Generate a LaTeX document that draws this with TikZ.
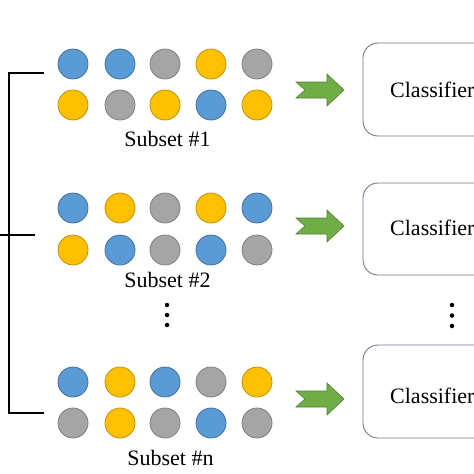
\documentclass[tikz,border=0pt]{standalone}
\usepackage{fontspec}
\setmainfont{Liberation Serif}
\definecolor{cblue}{HTML}{5B9BD5}
\definecolor{cblueb}{HTML}{41719C}
\definecolor{cgold}{HTML}{FFC000}
\definecolor{cgoldb}{HTML}{BF9000}
\definecolor{cgray}{HTML}{A5A5A5}
\definecolor{cgrayb}{HTML}{7F7F7F}
\definecolor{cgreen}{HTML}{70AD47}
\definecolor{cgreenb}{HTML}{507E32}
\definecolor{boxline}{HTML}{6F7B8C}
\newcommand\ballxpos[1]{\ifcase#1\or73\or120\or165\or211\or257\fi}
\tikzset{
  ball/.style={circle, minimum size=30pt, inner sep=0pt, line width=0.8pt},
  B/.style={ball, fill=cblue, draw=cblueb},
  Y/.style={ball, fill=cgold, draw=cgoldb},
  G/.style={ball, fill=cgray, draw=cgrayb},
  lbl/.style={font=\fontsize{22}{26}\selectfont, inner sep=0pt, anchor=base},
  bracket/.style={line width=1.3pt, black},
  clsbox/.style={draw=boxline, line width=0.9pt, rounded corners=15pt},
  greenarrow/.style={fill=cgreen, draw=cgreenb, line width=0.6pt},
  vdot/.style={circle, fill=black, inner sep=0pt, minimum size=4.5pt}
}
\begin{document}
\begin{tikzpicture}[x=1pt, y=-1pt]
\clip (0,0) rectangle (474,474);
\fill[white] (0,0) rectangle (474,474);
% balls
\foreach \r/\y/\cols in {a/64/{B,B,G,Y,G}, b/105/{Y,G,Y,B,Y},
                          c/208/{B,Y,G,Y,B}, d/250/{Y,B,G,B,G},
                          e/382/{B,Y,B,G,Y}, f/423/{G,Y,G,B,G}}{
  \foreach \s [count=\i] in \cols {
    \node[\s] (ball-\r\i) at (\ballxpos{\i},\y) {};
  }
}
% labels
\node[lbl] (sub1) at (167.5,146.5) {Subset \#1};
\node[lbl] (sub2) at (167.5,287) {Subset \#2};
\node[lbl] (subn) at (170.5,465) {Subset \#n};
% left dots
\node[vdot] (ld1) at (167,305) {};
\node[vdot] (ld2) at (167,315) {};
\node[vdot] (ld3) at (167,325) {};
% right dots
\node[vdot] (rd1) at (452,305) {};
\node[vdot] (rd2) at (452,315.5) {};
\node[vdot] (rd3) at (452,326) {};
% bracket
\coordinate (root) at (0,235);
\coordinate (mid) at (35,235);
\coordinate (vtop) at (9,73);
\coordinate (vbot) at (9,413);
\coordinate (t1) at (44,73);
\coordinate (t3) at (44,413);
\draw[bracket] (t1) -- (vtop) -- (vbot) -- (t3);
\draw[bracket] (root) -- (mid);
% green arrows
\foreach \cy in {90,226,399}{
  \draw[greenarrow] (296,\cy-8) -- (327,\cy-8) -- (327,\cy-16) -- (344,\cy)
    -- (327,\cy+16) -- (327,\cy+8) -- (296,\cy+8) -- (305,\cy) -- cycle;
}
% classifier boxes
\draw[clsbox] (363,43) rectangle (540,136);
\draw[clsbox] (363,183) rectangle (540,275);
\draw[clsbox] (363,345) rectangle (540,438);
\node[lbl, anchor=base west] (cls1) at (390,97) {Classifier};
\node[lbl, anchor=base west] (cls2) at (390,235) {Classifier};
\node[lbl, anchor=base west] (cls3) at (390,403) {Classifier};
\end{tikzpicture}
\end{document}
